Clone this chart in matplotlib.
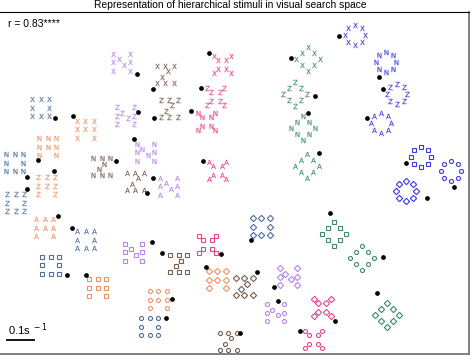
import numpy as np
import matplotlib.pyplot as plt

plt.rcParams["font.family"] = ["Liberation Sans", "DejaVu Sans"]

# global shape of each stimulus (one colour per global shape)
glob = ["square"] * 7 + ["A"] * 7 + ["N"] * 7 + ["Z"] * 7 + ["X"] * 7 + ["diamond"] * 7 + ["circle"] * 7
# local element of each stimulus
loc = ["X", "N", "Z", "A", "s", "o", "D",
       "X", "N", "Z", "A", "s", "o", "D",
       "X", "Z", "N", "A", "s", "o", "D",
       "X", "Z", "N", "A", "s", "o", "D",
       "X", "Z", "N", "A", "s", "D", "o",
       "X", "Z", "N", "A", "s", "o", "D",
       "X", "N", "Z", "A", "s", "o", "D"]
# position of each stimulus picture in the search space
cx = [40.5, 14.5, 15.5, 85.5, 50.5, 149.5, 261,
      85, 47.5, 46.5, 44.5, 97.5, 158, 217,
      121.5, 125, 145, 168.5, 133.5, 275, 288,
      165, 169, 101.5, 135, 178.5, 228, 244,
      222, 215.5, 206.5, 217.5, 207.5, 322, 313.5,
      308, 295, 303, 307, 334, 362, 387,
      355, 386, 397, 381, 421, 451, 406]
cy = [107.5, 162.5, 202.5, 239.5, 265, 326.5, 226.5,
      129, 146.5, 185.5, 227.5, 287.5, 299.5, 279.5,
      62, 115.5, 152, 186, 252, 312.5, 276.5,
      74, 108, 166.5, 181, 263.5, 341, 286.5,
      64.5, 96.5, 121.5, 170.5, 244.5, 307.5, 339.5,
      58.5, 94, 128, 165.5, 234, 257.5, 314.5,
      35, 62, 94, 123, 157, 171, 191]
# MDS coordinate of each stimulus (black dot)
dot_x = [55, 27, 27, 72, 67, 166, 251,
         73, 38, 54, 58, 86, 172, 206,
         137, 138, 134, 153, 152, 278, 274,
         153, 154, 116, 147, 162, 240, 257,
         209, 201, 191, 203, 221, 335, 300,
         291, 315, 308, 319, 330, 383, 377,
         339, 379, 383, 367, 406, 454, 427]
dot_y = [118, 177, 189, 228, 275, 318, 240,
         116, 160, 171, 216, 275, 299, 267,
         74, 112, 139, 178, 242, 301, 287,
         89, 118, 161, 193, 253, 333, 272,
         53, 88, 111, 161, 254, 321, 331,
         58, 96, 113, 153, 213, 257, 293,
         36, 77, 89, 118, 163, 187, 198]

colors = {"square": "#4f6f9b", "A": "#ec9368", "N": "#b585e8", "Z": "#7a5d4c",
          "X": "#e8458e", "diamond": "#3d8b6e", "circle": "#3b3bdb"}

# layout of the 8 local elements inside each global shape (3x3 grid, y down)
ang = np.arange(8) * np.pi / 4
templates = {
    "square": [(0, 0), (1, 0), (2, 0), (0, 1), (2, 1), (0, 2), (1, 2), (2, 2)],
    "A": [(0, 0), (1, 0), (2, 0), (0, 1), (1, 1), (2, 1), (0, 2), (2, 2)],
    "N": [(0, 0), (0, 1), (0, 2), (2, 0), (2, 1), (2, 2), (0.67, 0.67), (1.33, 1.33)],
    "Z": [(0, 0), (1, 0), (2, 0), (1.33, 0.67), (0.67, 1.33), (0, 2), (1, 2), (2, 2)],
    "X": [(0, 0), (2, 0), (0.5, 0.5), (1.5, 0.5), (0.5, 1.5), (1.5, 1.5), (0, 2), (2, 2)],
    "diamond": [(1, 0), (0.5, 0.5), (1.5, 0.5), (0, 1), (2, 1), (0.5, 1.5), (1.5, 1.5), (1, 2)],
    "circle": list(zip(1 + np.cos(ang), 1 + np.sin(ang))),
}
scale = {"square": 8.5, "A": 8.5, "N": 8.5, "Z": 8.5, "X": 8.5, "diamond": 12, "circle": 10}

fig = plt.figure(figsize=(4.74, 3.61), dpi=100)
ax = fig.add_axes([0, 7 / 361, 469 / 474, 342 / 361])
ax.set_xlim(0, 469)
ax.set_ylim(354, 12)

for g, l, x, y in zip(glob, loc, cx, cy):
    pts = np.array(templates[g], dtype=float) - 1
    px = x + pts[:, 0] * scale[g]
    py = y + pts[:, 1] * scale[g]
    c = colors[g]
    if l in ("X", "Z", "N", "A"):
        ax.plot(px, py, ls="none", marker=r"$\mathsf{%s}$" % l, ms=3.7,
                mfc=c, mec=c, mew=0.1)
    else:
        ms = 3.2 if l == "D" else 2.9
        ax.plot(px, py, ls="none", marker=l, ms=ms, mfc="white", mec=c, mew=0.8)

ax.plot(dot_x, dot_y, "o", color="black", ms=2.4, ls="none")

ax.set_xticks([])
ax.set_yticks([])
ax.spines["left"].set_visible(False)
ax.spines["top"].set_linewidth(0.8)
ax.spines["right"].set_color("#777777")
ax.spines["bottom"].set_color("#777777")
ax.spines["right"].set_linewidth(1.3)
ax.spines["bottom"].set_linewidth(1.3)

fig.text(230 / 474, 1 - 5.5 / 361, "Representation of hierarchical stimuli in visual search space",
         ha="center", va="center", fontsize=7.4)
ax.text(8, 23.5, "r = 0.83****", ha="left", va="center", fontsize=7.5)

# scale bar
ax.plot([7, 34], [340, 340], color="black", lw=1.3)
ax.text(8, 338, r"0.1s$^{\ -1}$", ha="left", va="bottom", fontsize=8)

fig.savefig("out.png", dpi=100)
